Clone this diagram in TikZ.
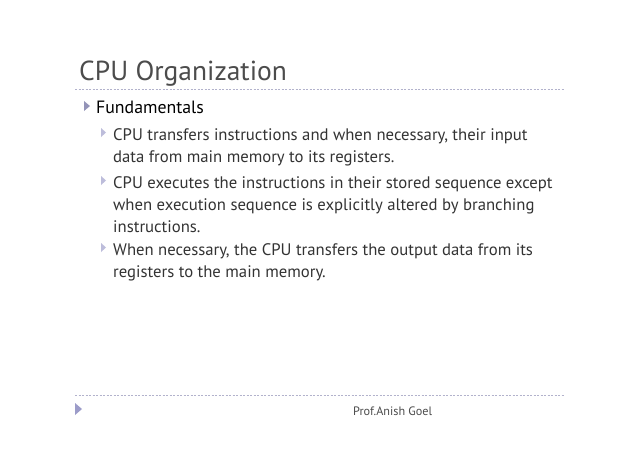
\documentclass[tikz,border=0pt]{standalone}
\usepackage{fontspec}
\setmainfont{PT Sans}
\begin{document}
\begin{tikzpicture}[x=1pt,y=-1pt,
  body/.style={anchor=base west,inner sep=0pt,font=\fontsize{16.7}{22}\selectfont,text=black!80},
  dline/.style={draw=blue!20!gray!50,dash pattern=on 2pt off 1.5pt,line width=0.7pt}]
\useasboundingbox[fill=white] (0,0) rectangle (638,451);
\node[anchor=base west,inner sep=0pt,font=\fontsize{27.5}{30}\selectfont,text=black!70] (title) at (79,80) {CPU Organization};
\draw[dline] (75,89) -- (565,89);
\fill[gray!80!blue!70] (84,101) -- (90,106) -- (84,111) -- cycle;
\node[body,text=black,font=\fontsize{17.8}{22}\selectfont] (f) at (96,113) {Fundamentals};
\foreach \y in {128,176,243}{\fill[gray!70!blue!40] (101,\y) -- (106,\y+4.5) -- (101,\y+9) -- cycle;}
\node[body] (a1) at (113,140) {CPU transfers instructions and when necessary, their input};
\node[body] (a2) at (113,162) {data from main memory to its registers.};
\node[body] (b1) at (113,188) {CPU executes the instructions in their stored sequence except};
\node[body] (b2) at (113,210) {when execution sequence is explicitly altered by branching};
\node[body] (b3) at (113,232) {instructions.};
\node[body] (c1) at (113,255) {When necessary, the CPU transfers the output data from its};
\node[body] (c2) at (113,277) {registers to the main memory.};
\draw[dline] (75,395) -- (565,395);
\fill[blue!30!gray!60] (75,403) -- (82,409) -- (75,415) -- cycle;
\node[anchor=base west,inner sep=0pt,font=\fontsize{12.2}{13}\selectfont,text=black!70] (auth) at (353,415) {Prof.Anish Goel};
\end{tikzpicture}
\end{document}
